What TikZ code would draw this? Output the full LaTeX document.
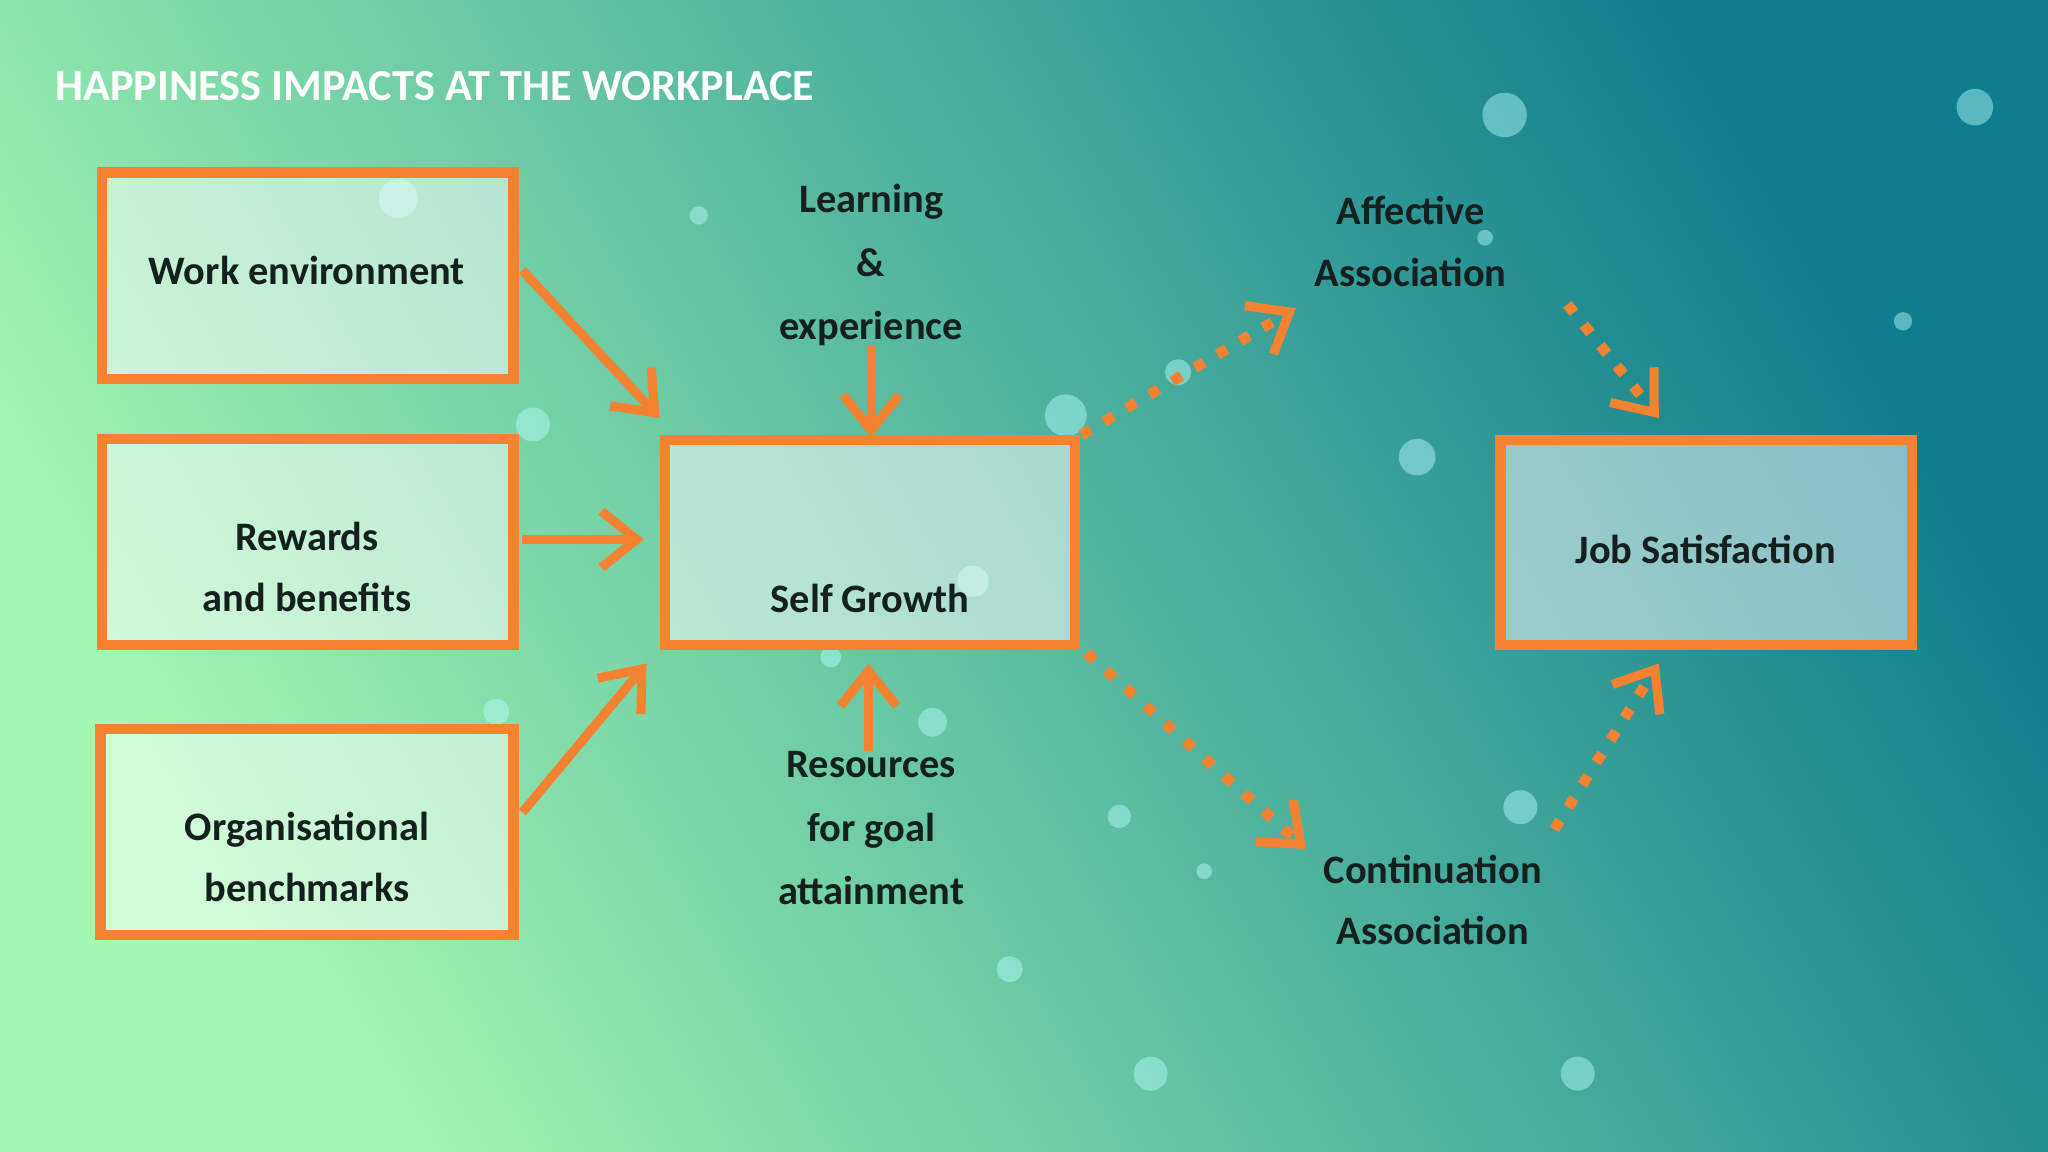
\documentclass[tikz,border=0pt]{standalone}
\usepackage{fontspec}
\setmainfont{Carlito}
\usetikzlibrary{arrows.meta}
\definecolor{org}{HTML}{F58231}
\definecolor{txt}{HTML}{14201E}
\definecolor{bgA}{HTML}{A2F7B2}
\definecolor{bgM}{HTML}{24CBB0}
\definecolor{bgB}{HTML}{0F7D8D}
\definecolor{glow}{HTML}{B8FFFF}
\tikzset{
 box/.style={draw=org,line width=3pt,fill=white,fill opacity=0.5,text opacity=1},
 lbl/.style={text=txt,font=\bfseries\fontsize{11.5}{17.5}\selectfont,align=center},
 arr/.style={draw=org,line width=2.6pt,-{Straight Barb[length=10pt,width=16pt,line width=2.6pt]}},
 dots/.style={draw=org,line width=3pt,dash pattern=on 3pt off 4.5pt,-{Straight Barb[length=10pt,width=16pt,line width=2.6pt]}},
 bokeh/.style={fill=glow,opacity=0.45},
}
\begin{document}
\begin{tikzpicture}[x=0.01306cm,y=-0.01306cm]
\useasboundingbox (0,0) rectangle (1568,882);
\shade[bottom color=bgA,middle color=bgM,top color=bgB,shading angle=-60] (0,0) rectangle (1568,882);
\foreach \x/\y/\r in {1152/88/17,1512/82/14,305/152/15,535/165/7,408/325/13,1457/246/7,1137/182/6,380/545/10,636/503/8,714/553/11,745/445/12,1164/618/13,857/625/9,922/667/6,773/742/10,881/822/13,1208/822/13,902/285/10,816/318/16,1085/350/14}
 \fill[bokeh] (\x,\y) circle (\r);
\node[anchor=west,text=white,font=\bfseries\fontsize{12.6}{14}\selectfont,inner sep=0pt] (title) at (42,66) {HAPPINESS IMPACTS AT THE WORKPLACE};
\draw[box] (78,132) rectangle (393,290);
\draw[box] (78,336) rectangle (393,494);
\draw[box] (77,558) rectangle (393,716);
\draw[box] (509,337) rectangle (823,494);
\draw[box] (1149,337) rectangle (1464,494);
\node[lbl] (we) at (235,207) {Work environment};
\node[lbl] (rb) at (235,434) {Rewards\\and benefits};
\node[lbl] (ob) at (235,656) {Organisational\\benchmarks};
\node[lbl] (sg) at (666,458) {Self Growth};
\node[lbl] (js) at (1306,421) {Job Satisfaction};
\node[lbl,font=\bfseries\fontsize{11.5}{18}\selectfont] (le) at (667,203) {Learning\\\&\\experience};
\node[lbl,font=\bfseries\fontsize{11.5}{18}\selectfont] (rg) at (667,634) {Resources\\for goal\\attainment};
\node[lbl] (af) at (1080,185) {Affective\\Association};
\node[lbl] (ca) at (1097,689) {Continuation\\Association};
\coordinate (a1s) at (400,207); \coordinate (a1e) at (505,320);
\coordinate (a2s) at (400,413); \coordinate (a2e) at (493,413);
\coordinate (a3s) at (400,622); \coordinate (a3e) at (495,508);
\coordinate (a4s) at (667,265); \coordinate (a4e) at (667,335);
\coordinate (a5s) at (665,575); \coordinate (a5e) at (665,508);
\coordinate (d1s) at (828,333); \coordinate (d1e) at (992,236);
\coordinate (d2s) at (1200,233); \coordinate (d2e) at (1270,320);
\coordinate (d3s) at (832,500); \coordinate (d3e) at (1000,650);
\coordinate (d4s) at (1190,635); \coordinate (d4e) at (1270,508);
\draw[arr] (a1s) -- (a1e);
\draw[arr] (a2s) -- (a2e);
\draw[arr] (a3s) -- (a3e);
\draw[arr] (a4s) -- (a4e);
\draw[arr] (a5s) -- (a5e);
\draw[dots] (d1s) -- (d1e);
\draw[dots] (d2s) -- (d2e);
\draw[dots] (d3s) -- (d3e);
\draw[dots] (d4s) -- (d4e);
\end{tikzpicture}
\end{document}
